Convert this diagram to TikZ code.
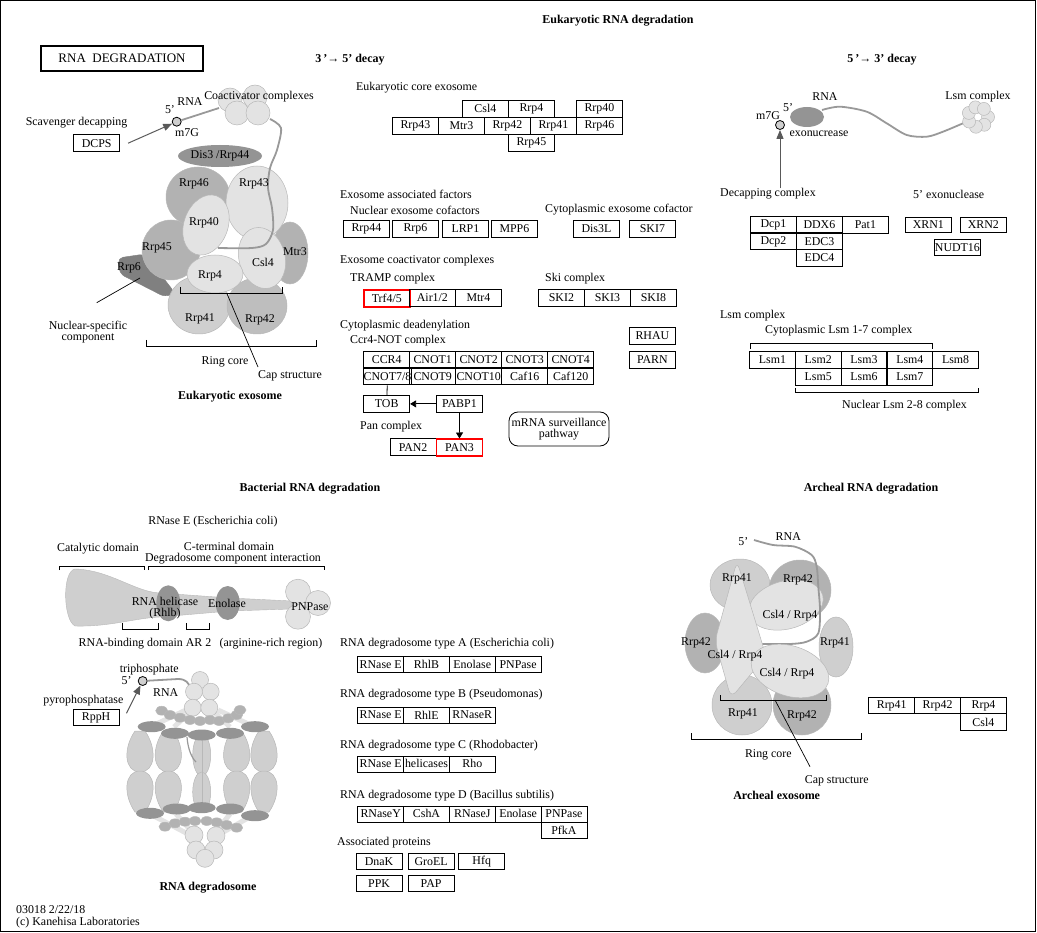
\documentclass[tikz,border=0pt]{standalone}
\usepackage{fontspec}
\setmainfont{Liberation Serif}
\usetikzlibrary{arrows.meta}
\definecolor{shadeA}{gray}{0.89}
\definecolor{shadeB}{gray}{0.81}
\definecolor{shadeC}{gray}{0.70}
\definecolor{shadeD}{gray}{0.58}
\definecolor{shadeE}{gray}{0.50}
\definecolor{rim}{gray}{0.72}
\definecolor{rnaline}{gray}{0.60}

\begin{document}
\begin{tikzpicture}[x=1pt, y=-1pt]
    \tikzstyle{every node} = [font=\fontsize{11.9}{11}\selectfont, inner sep=1pt]
    \tikzstyle{gene} = [draw, line width=0.8pt, minimum width=46, minimum height=17, inner sep=0pt, anchor=north west]
    \tikzstyle{hit} = [gene, draw=red, line width=1.6pt]
    \tikzstyle{lbl} = [anchor=west, inner sep=0pt]
    \tikzstyle{heading} = [font=\fontsize{12}{13}\selectfont\bfseries]
    \tikzstyle{blob} = [draw=rim, line width=0.5pt]
    \tikzstyle{rna} = [draw=rnaline, line width=1.8pt]
    \tikzstyle{capdot} = [circle, draw, line width=0.8pt, fill=shadeB, minimum size=9, inner sep=0pt]
    \tikzstyle{capArrow} = [draw=shadeE!70!black, line width=1pt, -{Triangle[length=9pt, width=7pt]}]
    \tikzstyle{flow} = [line width=0.8pt, -{Triangle[length=6pt, width=7pt]}]
    \tikzstyle{brace} = [line width=0.8pt]

    \useasboundingbox (0,0) rectangle (1037,933);
    \draw [line width=1pt] (0.5,0.5) rectangle (1035.5,931.5);

    % headings
    \node [heading] (euk) at (618,21) {Eukaryotic RNA degradation};
    \node [draw, line width=1.6pt, minimum width=162, minimum height=25, font=\fontsize{13}{14}\selectfont] (map) at (122,58.5) {RNA\ \ DEGRADATION};
    \node [heading] (decay35) at (350,60) {3\,'→ 5' decay};
    \node [heading] (decay53) at (882,60) {5\,'→ 3' decay};
    \node [heading] (bact) at (310,489) {Bacterial RNA degradation};
    \node [heading] (arch) at (871,489) {Archeal RNA degradation};

    % eukaryotic exosome
    \filldraw [fill=shadeE, draw=shadeE, rounded corners=5] (118,258) -- (145,254) -- (175,293) -- (165,297) -- (120,274) -- cycle;
    \filldraw [blob, fill=shadeC] (171,250) ellipse (29 and 30);
    \filldraw [blob, fill=shadeB] (199,305) ellipse (31 and 29);
    \filldraw [blob, fill=shadeC!60!shadeB] (257,306) ellipse (30 and 28);
    \filldraw [blob, fill=shadeC] (198,197) ellipse (32 and 30);
    \filldraw [blob, fill=shadeC] (290,253) ellipse (18 and 31);
    \filldraw [blob, fill=shadeA] (257,203) ellipse (31 and 37);
    \filldraw [blob, fill=shadeA, rotate around={-20:(206,225)}] (206,225) ellipse (22 and 31);
    \filldraw [blob, fill=shadeA, rotate around={15:(262,258)}] (262,258) ellipse (23 and 31);
    \filldraw [blob, fill=shadeA] (215,274) ellipse (28 and 19);
    \fill [shadeD] (220,156) ellipse (42 and 11);
    \foreach \cx/\cy in {230/100, 255/97, 237/113, 258/113}
      \filldraw [blob, fill=shadeA] (\cx,\cy) circle (12);
    \node [capdot] (cap1) at (176.7,121.7) {};
    \draw [rna] (cap1) -- (219,108);
    \draw [rna] plot [smooth] coordinates {(270,119) (281,128) (277,150) (270,168) (268,188) (272,208) (273,230) (266,244) (252,248) (218,248)};

    \node (coact) at (259,97) {Coactivator complexes};
    \node (rna1) at (190,102) {RNA};
    \node (end1) at (170,110) {5'};
    \node (m7g1) at (187,133) {m7G};
    \node (scav) at (76.5,123) {Scavenger decapping};
    \node [gene] (dcps) at (73.3,134.3) {DCPS};
    \draw [capArrow] ([xshift=8]dcps.east) -- (cap1);
    \node (dis3) at (220,156) {Dis3 /Rrp44};
    \node (e46) at (194,184) {Rrp46};
    \node (e43) at (254,184) {Rrp43};
    \node (e40) at (204,223) {Rrp40};
    \node (e45) at (157,248) {Rrp45};
    \node (emtr3) at (295,252) {Mtr3};
    \node (ecsl4) at (263,262) {Csl4};
    \node (e6) at (129,268) {Rrp6};
    \node (e4) at (210,276) {Rrp4};
    \node (e41) at (200,319) {Rrp41};
    \node (e42) at (260,320) {Rrp42};
    \draw [brace] (180,287) -- (180,293) -- (282,293) -- (282,287);
    \draw [brace] (146.7,340) -- (146.7,346.7) -- (316,346.7) -- (316,340);
    \node [align=center] (nuc) at (88,332.5) {Nuclear-specific\\component};
    \coordinate (nucfoot) at (96.7,302.7);
    \coordinate (rrp6tip) at (140,278);
    \draw [line width=0.7pt] (nucfoot) -- (rrp6tip);
    \node (ring1) at (225,362) {Ring core};
    \node (cap1lbl) at (290,376) {Cap structure};
    \coordinate (capmid1) at (226.7,293);
    \coordinate (capfoot1) at (258,367);
    \draw [line width=0.7pt] (capmid1) -- (capfoot1);
    \node [heading] (eukexo) at (230,397) {Eukaryotic exosome};

    % 3' -> 5' decay
    \node [lbl] (corelbl) at (356,88) {Eukaryotic core exosome};
    \foreach \g [count=\i from 0] in {Csl4, Rrp4}
      \node [gene] (coreA\i) at (462+46*\i,100) {\g};
    \node [gene] (coreA2) at (576,100) {Rrp40};
    \foreach \g [count=\i from 0] in {Rrp43, Mtr3, Rrp42, Rrp41, Rrp46}
      \node [gene] (coreB\i) at (392+46*\i,117) {\g};
    \node [gene] (coreC0) at (508,134) {Rrp45};

    \node [lbl] (assoc) at (340,194) {Exosome associated factors};
    \node [lbl] (nuccof) at (350,210) {Nuclear exosome cofactors};
    \node [lbl] (cytcof) at (545,210) {Cytoplasmic exosome cofactor};
    \foreach \g/\x [count=\i] in {Rrp44/343, Rrp6/392, LRP1/442, MPP6/491}
      \node [gene] (nucf\i) at (\x,220) {\g};
    \node [gene] (dis3l) at (573,220) {Dis3L};
    \node [gene] (ski7) at (629,220) {SKI7};

    \node [lbl] (coactlbl) at (340,261) {Exosome coactivator complexes};
    \node [lbl] (tramp) at (350,279) {TRAMP complex};
    \node [lbl] (skilbl) at (545,279) {Ski complex};
    \node [hit] (trf) at (363,289) {Trf4/5};
    \node [gene] (air) at (409,289) {Air1/2};
    \node [gene] (mtr4) at (455,289) {Mtr4};
    \foreach \g [count=\i from 0] in {SKI2, SKI3, SKI8}
      \node [gene] (ski\i) at (538+46*\i,289) {\g};

    \node [lbl] (deadlbl) at (340,326) {Cytoplasmic deadenylation};
    \node [lbl] (ccrlbl) at (350,341) {Ccr4-NOT complex};
    \foreach \g [count=\i from 0] in {CCR4, CNOT1, CNOT2, CNOT3, CNOT4}
      \node [gene] (ccrA\i) at (363.3+46*\i,351) {\g};
    \foreach \g [count=\i from 0] in {CNOT7/8, CNOT9, CNOT10, Caf16, Caf120}
      \node [gene] (ccrB\i) at (363.3+46*\i,367.5) {\g};
    \node [gene] (tob) at (363.3,395) {TOB};
    \node [gene] (pabp) at (436,395) {PABP1};
    \node [lbl] (panlbl) at (360,427) {Pan complex};
    \node [gene] (pan2) at (389.7,438.5) {PAN2};
    \node [hit] (pan3) at (435.7,438.5) {PAN3};
    \draw [line width=0.8pt] (ccrB0) -- (tob);
    \draw [flow] (pabp) -- (tob);
    \draw [flow] (pabp) -- (pan3);
    \node [gene] (rhau) at (629,327) {RHAU};
    \node [gene] (parn) at (629,351) {PARN};
    \node [draw, line width=0.8pt, rounded corners=9, minimum width=100, minimum height=34, align=center] (surv) at (559,429) {mRNA surveillance\\pathway};

    % 5' -> 3' decay
    \fill [shadeD] (807,117) ellipse (17 and 10);
    \draw [rna] plot [smooth] coordinates {(822,110) (840,106.7) (866.7,111.7) (886.7,123.3) (906.7,135) (926.7,136.7) (943,131.7) (966,122)};
    \foreach \a in {0,51,...,306}
      \filldraw [blob, fill=shadeA] (978,117) ++(\a:10) circle (6.5);
    \node [capdot] (cap2) at (780,125) {};
    \node (m7g2) at (768,116) {m7G};
    \node (end2) at (788,108) {5'};
    \node (rna2) at (825,97) {RNA};
    \node (lsmtop) at (978,97) {Lsm complex};
    \node (exo) at (819,134) {exonucrease};
    \node [lbl] (decap) at (720,194) {Decapping complex};
    \node [lbl] (xrnlbl) at (913,194) {5' exonuclease};
    \draw [capArrow] (cap2 |- decap.north) -- (cap2);
    \foreach \g [count=\i from 0] in {Dcp1, DDX6, Pat1}
      \node [gene] (decA\i) at (750+46*\i,216) {\g};
    \node [gene] (decB0) at (750,232.5) {Dcp2};
    \node [gene] (decB1) at (796,232.5) {EDC3};
    \node [gene] (decC1) at (796,249) {EDC4};
    \node [gene, minimum height=15] (xrn1) at (905,216.7) {XRN1};
    \node [gene, minimum height=15] (xrn2) at (960,216.7) {XRN2};
    \node [gene, minimum height=16] (nudt) at (934,239.3) {NUDT16};

    \node [lbl] (lsmlbl) at (720,316) {Lsm complex};
    \node [lbl] (lsm17) at (765,331) {Cytoplasmic Lsm 1-7 complex};
    \draw [brace] (750,349) -- (750,343) -- (932,343) -- (932,349);
    \foreach \g [count=\i from 0] in {Lsm1, Lsm2, Lsm3, Lsm4, Lsm8}
      \node [gene] (lsmA\i) at (749+45.8*\i,351) {\g};
    \foreach \g [count=\i from 1] in {Lsm5, Lsm6, Lsm7}
      \node [gene] (lsmB\i) at (749+45.8*\i,368) {\g};
    \draw [brace] (795,388) -- (795,392) -- (978,392) -- (978,388);
    \node [lbl] (lsm28) at (842,405.7) {Nuclear Lsm 2-8 complex};

    % RNase E
    \node (rnaselbl) at (213,521.7) {RNase E (Escherichia coli)};
    \node (catlbl) at (98,549) {Catalytic domain};
    \node [inner sep=0pt] (ctlbl) at (229,546.5) {C-terminal domain};
    \node [inner sep=0pt] (dgilbl) at (233,558.5) {Degradosome component interaction};
    \draw [brace] (59.3,570) -- (59.3,566) -- (144,566) -- (144,570);
    \draw [brace] (148.3,570) -- (148.3,566) -- (324.3,566) -- (324.3,570);
    \filldraw [fill=shadeB, draw=rim] (75,569) .. controls (62,571) and (63,620) .. (75,626) .. controls (110,627) and (135,618) .. (160,617) -- (230,611) -- (292,609) -- (292,601) -- (230,598) -- (160,593) .. controls (135,592) and (110,570) .. (75,569) -- cycle;
    \fill [shadeD] (168.3,603.3) ellipse (12 and 18);
    \fill [shadeD] (227.7,603) ellipse (12 and 17);
    \foreach \cx/\cy in {298/591.7, 318/603, 298/616.7}
      \filldraw [blob, fill=shadeA] (\cx,\cy) circle (12.5);
    \node [align=center, inner sep=0pt] (hel) at (165,608.5) {RNA helicase\\(Rhlb)};
    \node (eno) at (227,603) {Enolase};
    \node (pnp) at (310,607) {PNPase};
    \draw [brace] (122.7,623) -- (122.7,629.3) -- (158.3,629.3) -- (158.3,623);
    \draw [brace] (186.7,623) -- (186.7,629.3) -- (209.3,629.3) -- (209.3,623);
    \node (rbd) at (145,643.3) {RNA-binding domain AR 2};
    \node (arg) at (271,643.3) {(arginine-rich region)};

    % RNA degradosome
    \foreach \xa/\xb in {186/150, 192/174, 212/230, 218/255}
      \draw [line width=5pt, shadeA] (\xa,710) -- (\xb,727);
    \foreach \xa/\xb in {188/150, 194/176, 214/230, 220/255}
      \draw [line width=5pt, shadeA] (\xa,834) -- (\xb,814);
    \foreach \cx in {140, 168.3, 236.7, 264} {
      \filldraw [blob, fill=shadeB] ({\cx-5},731) .. controls ({\cx-17},748) and ({\cx-16},772) .. (\cx,772) .. controls ({\cx+16},772) and ({\cx+17},748) .. ({\cx+5},731) -- cycle;
      \filldraw [blob, fill=shadeB] ({\cx-5},812) .. controls ({\cx-17},795) and ({\cx-16},771) .. (\cx,771) .. controls ({\cx+16},771) and ({\cx+17},795) .. ({\cx+5},812) -- cycle;
    }
    \filldraw [blob, fill=shadeB] (201.7,755) ellipse (9 and 21);
    \filldraw [blob, fill=shadeB] (201.7,792) ellipse (9 and 20);
    \draw [rim] (201.7,735) -- (201.7,812);
    \draw [rna, line width=1.2pt] (187,737) .. controls (188,750) and (192,758) .. (196,762);
    \foreach \cx/\cy in {151.7/726.7, 175/733.3, 201.7/735, 230/733.3, 255/726.7, 150/813.3, 176.7/809, 201.7/807.7, 230/809, 255/815.7}
      \fill [shadeD] (\cx,\cy) ellipse (14 and 5.5);
    \node [capdot] (cap3) at (142.7,681) {};
    \draw [rna] (cap3) -- (178,679) .. controls (186,679) and (189,683) .. (190,688);
    \foreach \cx/\cy in {200/680, 194/691.7, 210.7/691.7, 192.7/707.7, 209.3/707.7}
      \filldraw [blob, fill=shadeA] (\cx,\cy) circle (8.5);
    \foreach \cx/\cy in {161.7/710.7, 170/715, 180/717.7, 190/720, 200/721, 210/720, 219/721, 228.3/718.3, 236.7/715, 240/710, 165/826.7, 175/823.3, 185/821.7, 195/821, 206.7/821, 216.7/822.3, 226.7/825, 236.7/827.7}
      \filldraw [blob, fill=shadeC] (\cx,\cy) ellipse (6 and 4.5);
    \foreach \cx/\cy in {194/835, 216/835.7, 196/850, 214/850, 205/858.3}
      \filldraw [blob, fill=shadeA] (\cx,\cy) circle (9);
    \node (tri) at (149.3,669.3) {triphosphate};
    \node (end3) at (126.7,681) {5'};
    \node (rna3) at (165.7,692.7) {RNA};
    \node (pyro) at (83.3,701) {pyrophosphatase};
    \node [gene, minimum height=16] (rpph) at (72.7,709.3) {RppH};
    \draw [capArrow] ([xshift=7, yshift=-4]rpph.north east) -- (cap3);
    \node [heading] (degr) at (208,888) {RNA degradosome};

    % degradosome types
    \node [lbl] (typA) at (340,644) {RNA degradosome type A (Escherichia coli)};
    \foreach \g [count=\i from 0] in {RNase E, RhlB, Enolase, PNPase}
      \node [gene, minimum height=16] (dgA\i) at (357.3+45.8*\i,656) {\g};
    \node [lbl] (typB) at (340,695) {RNA degradosome type B (Pseudomonas)};
    \foreach \g [count=\i from 0] in {RNase E, RhlE, RNaseR}
      \node [gene, minimum height=16] (dgB\i) at (357.3+45.8*\i,706.7) {\g};
    \node [lbl] (typC) at (340,746) {RNA degradosome type C (Rhodobacter)};
    \foreach \g [count=\i from 0] in {RNase E, helicases, Rho}
      \node [gene, minimum height=16] (dgC\i) at (357.3+45.8*\i,755.5) {\g};
    \node [lbl] (typD) at (340,795.7) {RNA degradosome type D (Bacillus subtilis)};
    \foreach \g [count=\i from 0] in {RNaseY, CshA, RNaseJ, Enolase, PNPase}
      \node [gene, minimum height=16] (dgD\i) at (357.3+45.8*\i,805.5) {\g};
    \node [gene, minimum height=16] (pfka) at (540.5,821.5) {PfkA};
    \node [lbl] (asslbl) at (337,842.3) {Associated proteins};
    \foreach \g/\x [count=\i] in {DnaK/355.7, GroEL/407.7, Hfq/458.3}
      \node [gene, minimum height=16] (apA\i) at (\x,853.3) {\g};
    \foreach \g/\x [count=\i] in {PPK/355.7, PAP/407.7}
      \node [gene, minimum height=16] (apB\i) at (\x,875) {\g};

    % archaeal exosome
    \filldraw [blob, fill=shadeB] (740,585) ellipse (30 and 26);
    \filldraw [blob, fill=shadeC] (800,590) ellipse (31 and 30);
    \filldraw [blob, fill=shadeC] (705,643) ellipse (20 and 30);
    \filldraw [blob, fill=shadeB] (836,647) ellipse (17 and 30);
    \filldraw [blob, fill=shadeB] (742,705) ellipse (30 and 30);
    \filldraw [blob, fill=shadeC] (802,705) ellipse (29 and 30);
    \filldraw [blob, fill=shadeA, rotate around={15:(786,605)}] (786,605) ellipse (38 and 24);
    \draw [rna] plot [smooth] coordinates {(754,540) (773,545) (795,546.7) (811.7,555) (816.7,566.7) (818.3,586.7) (820,610) (818.3,633.3) (806.7,641.7) (790,644) (760,644)};
    \filldraw [blob, fill=shadeA, rounded corners=8] (737,561) -- (766,656) -- (731,698) -- (715,641) -- cycle;
    \filldraw [blob, fill=shadeA, rotate around={-18:(790,671)}] (790,671) ellipse (40 and 25);
    \node (a41a) at (737,579) {Rrp41};
    \node (a42a) at (798,580) {Rrp42};
    \node (acs1) at (790,616) {Csl4 / Rrp4};
    \node (a42b) at (696,642.7) {Rrp42};
    \node (acs2) at (735,656) {Csl4 / Rrp4};
    \node (a41b) at (835,642.7) {Rrp41};
    \node (acs3) at (787,674) {Csl4 / Rrp4};
    \node (a41c) at (743,714) {Rrp41};
    \node (a42c) at (802,715.7) {Rrp42};
    \node (end4) at (743.3,541.7) {5'};
    \node (rna4) at (788.3,536.7) {RNA};
    \draw [brace] (720,695) -- (720,700) -- (826.7,700) -- (826.7,695);
    \draw [brace] (691.7,733) -- (691.7,739.3) -- (861.7,739.3) -- (861.7,733);
    \node (ring2) at (768.3,755) {Ring core};
    \node (cap2lbl) at (836.7,780.7) {Cap structure};
    \coordinate (capmid2) at (775,700);
    \coordinate (capfoot2) at (810,766.7);
    \draw [line width=0.7pt] (capmid2) -- (capfoot2);
    \node [heading] (archexo) at (776.7,795) {Archeal exosome};
    \foreach \g [count=\i from 0] in {Rrp41, Rrp42, Rrp4}
      \node [gene, minimum height=16.6] (arA\i) at (868.3+45.9*\i,696.7) {\g};
    \node [gene, minimum height=16.6] (arB2) at (960,713.3) {Csl4};

    % footer
    \node [lbl] (stamp) at (16,910) {03018 2/22/18};
    \node [lbl] (copy) at (16,923) {(c) Kanehisa Laboratories};
  \end{tikzpicture}
\end{document}
